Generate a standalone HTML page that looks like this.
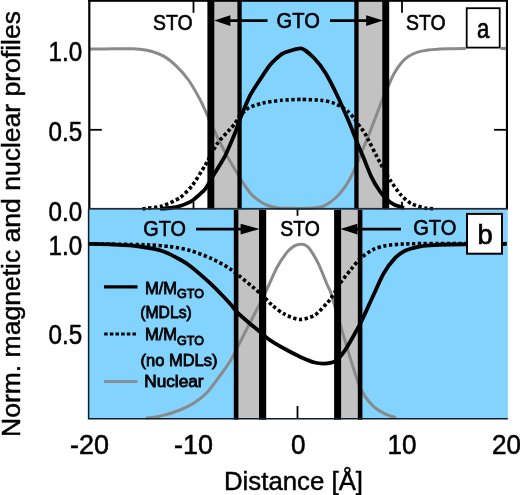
<!DOCTYPE html>
<html lang="en"><head><meta charset="utf-8"><title>Figure</title>
<style>html,body{margin:0;padding:0;background:#fff;overflow:hidden}body{width:520px;height:495px}</style></head>
<body>
<svg width="520" height="495" viewBox="0 0 520 495" style="display:block">
<rect width="520" height="495" fill="#fff"/>
<rect x="239.5" y="0" width="117" height="209" fill="#82d3fe"/>
<rect x="212" y="0" width="27" height="209" fill="#c2c2c2"/>
<rect x="357" y="0" width="27" height="209" fill="#c2c2c2"/>
<rect x="88.2" y="209.4" width="419.6" height="209.2" fill="#82d3fe"/>
<rect x="264" y="209.6" width="72" height="209" fill="#fff"/>
<rect x="236" y="209.6" width="26" height="209" fill="#c2c2c2"/>
<rect x="338" y="209.6" width="22" height="209" fill="#c2c2c2"/>
<g fill="none" stroke-linejoin="round">
<path d="M89.00,49.00 C93.33,48.97 108.17,48.83 115.00,48.80 C121.83,48.77 125.83,48.73 130.00,48.80 C134.17,48.87 136.32,48.75 140.00,49.20 C143.68,49.65 148.07,50.30 152.10,51.50 C156.13,52.70 160.15,53.97 164.20,56.40 C168.25,58.83 172.35,62.17 176.40,66.10 C180.45,70.03 184.57,74.43 188.50,80.00 C192.43,85.57 196.95,93.85 200.00,99.50 C203.05,105.15 204.32,108.48 206.80,113.90 C209.28,119.32 211.67,125.25 214.90,132.00 C218.13,138.75 222.43,147.43 226.20,154.40 C229.97,161.37 234.82,169.23 237.50,173.80 C240.18,178.37 240.15,178.57 242.30,181.80 C244.45,185.03 247.70,190.10 250.40,193.20 C253.10,196.30 255.82,198.43 258.50,200.40 C261.18,202.37 263.27,203.75 266.50,205.00 C269.73,206.25 272.65,207.33 277.90,207.90 C283.15,208.47 292.98,208.33 298.00,208.40 C303.02,208.47 305.17,208.40 308.00,208.30 C310.83,208.20 312.30,208.22 315.00,207.80 C317.70,207.38 320.78,207.43 324.20,205.80 C327.62,204.17 332.00,201.18 335.50,198.00 C339.00,194.82 342.23,191.00 345.20,186.70 C348.17,182.40 350.60,177.85 353.30,172.20 C356.00,166.55 358.78,159.12 361.40,152.80 C364.02,146.48 366.65,140.18 369.00,134.30 C371.35,128.42 373.33,123.13 375.50,117.50 C377.67,111.87 379.72,106.12 382.00,100.50 C384.28,94.88 387.18,88.28 389.20,83.80 C391.22,79.32 392.10,77.07 394.10,73.60 C396.10,70.13 398.83,65.83 401.20,63.00 C403.57,60.17 405.70,58.37 408.30,56.60 C410.90,54.83 413.50,53.50 416.80,52.40 C420.10,51.30 424.33,50.55 428.10,50.00 C431.87,49.45 435.75,49.30 439.40,49.10 C443.05,48.90 445.73,48.88 450.00,48.80 C454.27,48.72 455.58,48.63 465.00,48.60 C474.42,48.57 499.58,48.60 506.50,48.60" stroke="#8a8a8a" stroke-width="3"/>
<path d="M146.00,418.00 C146.93,417.92 151.67,417.70 154.00,417.30 C156.33,416.90 162.97,415.45 166.00,414.60 C169.03,413.75 176.78,411.33 180.00,410.00 C183.22,408.67 190.41,405.26 193.60,403.20 C196.78,401.13 204.12,395.65 207.30,392.30 C210.49,388.95 218.04,378.45 220.90,374.50 C223.76,370.55 229.63,362.04 231.80,358.40 C233.97,354.76 237.47,347.28 239.50,343.30 C241.53,339.32 247.00,328.61 249.20,324.30 C251.40,320.00 256.35,310.46 258.40,306.40 C260.45,302.34 264.65,294.01 266.80,289.50 C268.95,284.99 274.36,272.14 276.80,267.70 C279.24,263.25 285.58,253.98 287.70,251.40 C289.82,248.82 293.40,246.44 295.00,245.60 C296.60,244.76 300.17,244.23 301.40,244.20 C302.62,244.16 304.56,244.79 305.50,245.30 C306.44,245.81 307.97,246.41 309.50,248.60 C311.03,250.79 316.48,259.75 318.60,264.10 C320.72,268.45 326.26,282.53 327.70,285.90 C329.13,289.27 329.41,288.38 330.90,293.00 C332.39,297.62 338.44,318.54 340.50,325.50 C342.56,332.46 346.54,346.03 348.60,352.70 C350.67,359.37 356.29,377.60 358.20,382.70 C360.11,387.80 363.10,393.53 365.00,396.40 C366.90,399.27 372.11,405.24 374.50,407.30 C376.89,409.37 382.99,412.88 385.50,414.10 C388.01,415.33 394.77,417.37 396.00,417.80" stroke="#8a8a8a" stroke-width="3"/>
<path d="M160.00,208.70 C160.92,208.64 168.17,208.25 170.00,208.00 C171.83,207.75 177.94,206.69 180.00,206.00 C182.06,205.31 190.21,202.03 192.50,200.50 C194.79,198.97 203.10,191.58 205.00,189.30 C206.90,187.02 211.92,177.71 213.20,175.60 C214.48,173.49 217.88,168.16 219.00,166.30 C220.12,164.44 224.39,157.25 225.40,155.30 C226.41,153.35 229.19,146.86 230.00,145.00 C230.81,143.14 233.47,136.85 234.20,135.00 C234.93,133.15 237.38,126.50 238.00,124.80 C238.62,123.10 239.94,119.10 241.00,116.50 C242.06,113.90 248.22,99.21 249.60,96.40 C250.97,93.59 254.13,88.68 256.00,85.80 C257.87,82.92 267.55,67.96 270.00,65.00 C272.45,62.04 279.84,55.02 282.70,53.50 C285.56,51.98 298.33,47.99 301.20,48.40 C304.07,48.81 311.77,55.74 314.00,58.00 C316.23,60.26 323.39,69.61 325.50,73.00 C327.61,76.39 334.89,90.62 337.00,95.00 C339.11,99.38 346.99,117.29 348.50,120.80 C350.01,124.31 352.63,131.10 353.50,133.30 C354.37,135.50 357.13,142.69 358.00,144.80 C358.87,146.91 361.80,153.41 363.00,156.30 C364.20,159.19 369.54,173.07 371.10,176.30 C372.66,179.53 378.54,189.36 380.00,191.50 C381.46,193.64 385.67,198.38 387.00,199.60 C388.33,200.82 392.94,204.03 394.50,204.80 C396.06,205.57 403.13,207.71 404.00,208.00" stroke="#000" stroke-width="3.8"/>
<path d="M142.50,208.80 C144.50,208.52 158.75,207.11 162.50,206.00 C166.25,204.89 177.00,199.77 180.00,197.70 C183.00,195.63 190.00,188.52 192.50,185.30 C195.00,182.08 202.50,169.70 205.00,165.50 C207.50,161.30 215.00,146.92 217.50,143.30 C220.00,139.68 228.25,131.29 230.00,129.30 C231.75,127.31 234.00,124.75 235.00,123.40 C236.00,122.05 238.60,117.37 240.00,115.80 C241.40,114.23 246.70,108.98 249.00,107.70 C251.30,106.42 259.75,103.74 263.00,103.00 C266.25,102.26 277.70,100.66 281.50,100.30 C285.30,99.94 297.05,99.40 301.00,99.40 C304.95,99.40 317.86,99.98 321.00,100.30 C324.14,100.62 330.34,101.93 332.40,102.60 C334.46,103.27 340.04,106.11 341.60,107.00 C343.16,107.89 346.81,110.44 348.00,111.50 C349.19,112.56 352.22,115.96 353.50,117.60 C354.78,119.24 359.65,126.30 360.80,127.90 C361.95,129.50 363.04,130.05 365.00,133.60 C366.96,137.15 377.80,158.62 380.40,163.40 C383.00,168.18 388.98,178.28 391.00,181.40 C393.02,184.52 398.60,192.38 400.60,194.60 C402.60,196.82 408.60,202.26 411.00,203.60 C413.40,204.94 422.20,207.48 424.60,208.00 C427.00,208.52 433.96,208.72 435.00,208.80" stroke="#000" stroke-width="3.6" stroke-dasharray="3.3 2.5"/>
<path d="M89.00,243.80 C92.20,243.89 106.47,244.17 113.00,244.50 C119.53,244.83 131.33,245.35 138.00,246.25 C144.67,247.15 157.00,249.25 163.00,251.25 C169.00,253.25 179.35,259.24 183.00,261.25 C186.65,263.26 188.07,264.52 190.40,266.30 C192.73,268.08 197.81,272.28 200.50,274.60 C203.19,276.92 208.00,281.25 210.60,283.70 C213.20,286.15 217.31,290.23 220.00,293.00 C222.69,295.77 228.52,301.91 230.80,304.50 C233.08,307.09 234.65,309.93 237.10,312.40 C239.55,314.87 246.29,320.52 249.20,323.00 C252.11,325.48 256.47,328.96 258.90,331.00 C261.33,333.04 265.25,336.65 267.40,338.30 C269.55,339.95 272.11,341.68 275.00,343.40 C277.89,345.12 285.33,349.23 289.10,351.20 C292.87,353.17 299.90,356.69 303.30,358.20 C306.70,359.71 311.96,361.78 314.60,362.50 C317.24,363.22 320.83,363.59 323.10,363.60 C325.37,363.61 329.88,363.01 331.60,362.60 C333.32,362.19 334.81,361.34 336.00,360.50 C337.19,359.66 339.17,357.87 340.50,356.30 C341.83,354.73 344.07,351.78 346.00,348.70 C347.93,345.62 352.89,336.96 355.00,333.20 C357.11,329.44 359.44,325.35 361.80,320.50 C364.16,315.65 369.79,303.07 372.70,296.80 C375.61,290.53 380.69,278.59 383.60,273.50 C386.51,268.41 391.58,261.67 394.50,258.60 C397.42,255.53 402.34,252.07 405.50,250.50 C408.66,248.93 414.93,247.48 418.20,246.80 C421.47,246.12 425.76,245.71 430.00,245.40 C434.24,245.09 439.80,244.70 450.00,244.50 C460.20,244.30 498.97,243.98 506.50,243.90" stroke="#000" stroke-width="3.8"/>
<path d="M89.00,243.80 C95.53,243.91 129.87,244.44 138.00,244.60 C146.13,244.76 145.71,244.73 150.00,245.00 C154.29,245.27 164.81,245.85 170.20,246.60 C175.59,247.35 185.01,249.05 190.40,250.60 C195.79,252.15 205.21,255.69 210.60,258.20 C215.99,260.71 224.21,264.73 230.80,269.40 C237.39,274.07 254.44,288.37 260.00,293.20 C265.56,298.03 269.17,302.77 272.50,305.60 C275.83,308.43 281.33,312.55 285.00,314.40 C288.67,316.25 296.00,319.42 300.00,319.50 C304.00,319.58 311.33,317.27 315.00,315.00 C318.67,312.73 325.17,305.03 327.50,302.50 C329.83,299.97 330.83,298.55 332.50,296.00 C334.17,293.45 337.55,286.93 340.00,283.40 C342.45,279.87 348.23,272.78 350.90,269.50 C353.57,266.22 357.09,261.43 360.00,258.80 C362.91,256.17 369.30,251.55 372.70,249.80 C376.10,248.05 381.38,246.47 385.50,245.70 C389.62,244.93 397.67,244.28 403.60,244.00 C409.53,243.72 416.28,243.65 430.00,243.60 C443.72,243.55 496.30,243.60 506.50,243.60" stroke="#000" stroke-width="3.6" stroke-dasharray="3.3 2.5"/>
</g>
<g fill="#000">
<rect x="207.4" y="0" width="6.9" height="209.2" />
<rect x="237.4" y="0" width="4.3" height="209.2" />
<rect x="354.3" y="0" width="4.3" height="209.2" />
<rect x="382.3" y="0" width="6.9" height="209.2" />
<rect x="233.8" y="209.8" width="4.6" height="209.9" />
<rect x="259" y="209.8" width="7.2" height="209.9" />
<rect x="334.1" y="209.8" width="7" height="209.9" />
<rect x="357.8" y="209.8" width="4.6" height="209.9" />
</g>
<g fill="#000">
<rect x="88.2" y="0" width="2.2" height="209"/>
<rect x="88.2" y="0" width="419.8" height="1.8"/>
<rect x="505.9" y="0" width="2.1" height="209"/>
<rect x="88.2" y="207.9" width="419.8" height="1.8" fill="#1e2a3a"/>
</g>
<path d="M88.6,209 V418.7 H507.8" stroke="#0c1c2a" stroke-width="1.5" fill="none"/>
<g stroke="#000" stroke-width="1.8">
<path d="M90,129.8 H101.8"/>
<path d="M494,129.8 H506"/>
<path d="M193.5,1 V12.8"/>
<path d="M402,1 V12.8"/>
<path d="M193.5,201.8 V208.5"/>
<path d="M402,201.8 V208.5"/>
<path d="M297.5,209.6 V215.8"/>
<path d="M297.5,406 V418"/>
</g>
<g stroke="#000" stroke-width="2.6">
<path d="M227,20.6 H267.5"/>
<path d="M330,20.6 H368"/>
<path d="M196,229.1 H242"/>
<path d="M354,229.1 H401"/>
</g>
<g fill="#000">
<path d="M214.2,20.6 L230.4,15.3 V25.9 Z"/>
<path d="M383,20.6 L366.2,15.3 V25.9 Z"/>
<path d="M259.6,229.1 L240.6,223.7 V234.5 Z"/>
<path d="M340.4,229.1 L357.4,223.7 V234.5 Z"/>
</g>
<rect x="465.8" y="44" width="34.8" height="7" fill="#fff"/>
<rect x="466.7" y="8.2" width="33" height="39.4" fill="#fff" stroke="#000" stroke-width="1.8"/>
<rect x="467" y="213.9" width="35" height="39.8" fill="#fff" stroke="#000" stroke-width="2"/>
<g font-family='"Liberation Sans", sans-serif' fill="#000">
<text x="483.2" y="37.5" font-size="27.5" text-anchor="middle" textLength="12.3" lengthAdjust="spacingAndGlyphs" stroke="#000" stroke-width="0.7">a</text>
<text x="485" y="244.2" font-size="27.3" text-anchor="middle" stroke="#000" stroke-width="0.7">b</text>
<g font-size="21.3" text-anchor="middle" stroke="#000" stroke-width="0.6">
<text x="172.8" y="30" textLength="39.6" lengthAdjust="spacingAndGlyphs">STO</text>
<text x="298.2" y="28" textLength="43.2" lengthAdjust="spacingAndGlyphs">GTO</text>
<text x="425.8" y="30" textLength="39.6" lengthAdjust="spacingAndGlyphs">STO</text>
<text x="164.6" y="235.7" textLength="42.6" lengthAdjust="spacingAndGlyphs">GTO</text>
<text x="300" y="235.9" textLength="39.6" lengthAdjust="spacingAndGlyphs">STO</text>
<text x="434.8" y="235.4" textLength="43.2" lengthAdjust="spacingAndGlyphs">GTO</text>
</g>
<g font-size="27.4" text-anchor="end" stroke="#000" stroke-width="0.55">
<text x="82.3" y="60.8" textLength="33.7" lengthAdjust="spacingAndGlyphs">1.0</text>
<text x="82.3" y="141.2" textLength="33.7" lengthAdjust="spacingAndGlyphs">0.5</text>
<text x="82.3" y="221" textLength="33.7" lengthAdjust="spacingAndGlyphs">0.0</text>
<text x="82.3" y="254.8" textLength="33.7" lengthAdjust="spacingAndGlyphs">1.0</text>
<text x="82.3" y="343.6" textLength="33.7" lengthAdjust="spacingAndGlyphs">0.5</text>
</g>
<g font-size="27.4" text-anchor="middle" stroke="#000" stroke-width="0.55">
<text x="89.5" y="454.3" textLength="39" lengthAdjust="spacingAndGlyphs">-20</text>
<text x="193.5" y="454.3" textLength="39" lengthAdjust="spacingAndGlyphs">-10</text>
<text x="298.2" y="454.3" textLength="14.5" lengthAdjust="spacingAndGlyphs">0</text>
<text x="402" y="454.3" textLength="29" lengthAdjust="spacingAndGlyphs">10</text>
<text x="506.5" y="454.3" textLength="29" lengthAdjust="spacingAndGlyphs">20</text>
</g>
<text x="293.5" y="490" font-size="25" text-anchor="middle" textLength="139" lengthAdjust="spacingAndGlyphs" stroke="#000" stroke-width="0.45">Distance [Å]</text>
<text transform="translate(20.1,224) rotate(-90)" font-size="25" text-anchor="middle" textLength="426" lengthAdjust="spacingAndGlyphs" stroke="#000" stroke-width="0.45">Norm. magnetic and nuclear profiles</text>
<g font-size="16.5" stroke="#000" stroke-width="0.8">
<text x="145" y="293.5">M/M<tspan font-size="12.5" dy="4.5">GTO</tspan></text>
<text x="140.3" y="317.9" textLength="51.5" lengthAdjust="spacingAndGlyphs">(MDLs)</text>
<text x="145" y="340">M/M<tspan font-size="12.5" dy="4.5">GTO</tspan></text>
<text x="140.5" y="365.5">(no MDLs)</text>
<text x="144.2" y="387.3" textLength="59.4" lengthAdjust="spacingAndGlyphs">Nuclear</text>
</g>
</g>
<path d="M104,286.9 H137.5" stroke="#000" stroke-width="3.2"/>
<path d="M104.2,334 H137.5" stroke="#000" stroke-width="3.2" stroke-dasharray="3.5 2.15"/>
<path d="M104,381.4 H137.5" stroke="#86909a" stroke-width="3"/>
</svg>
</body></html>
